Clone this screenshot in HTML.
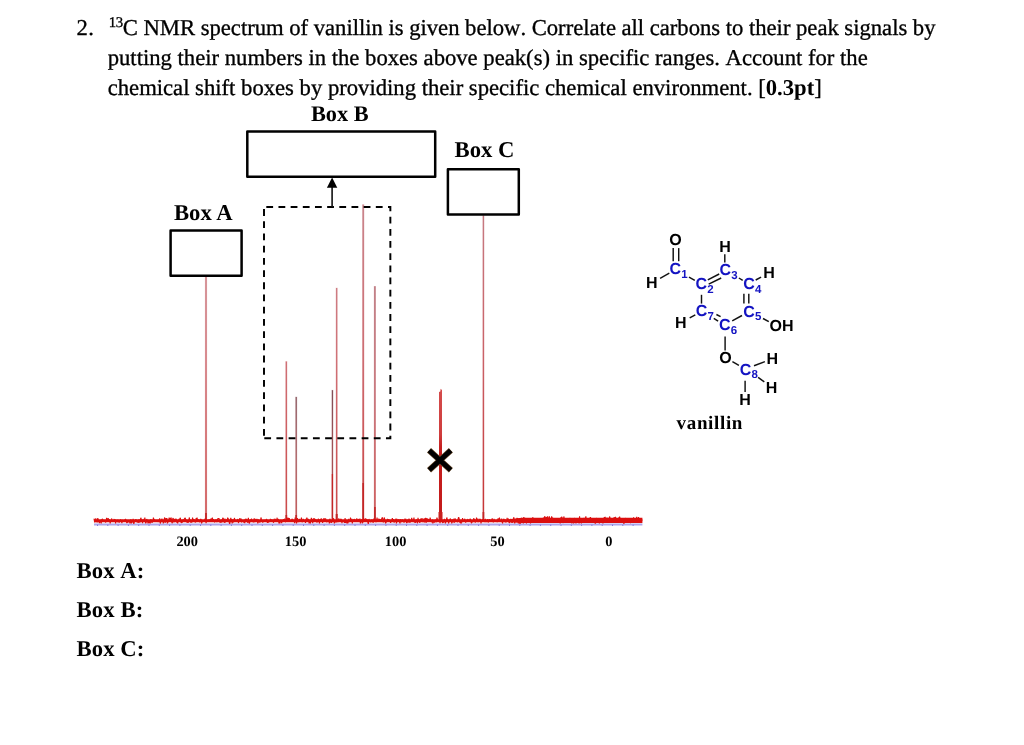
<!DOCTYPE html>
<html><head><meta charset="utf-8"><title>13C NMR vanillin</title>
<style>
html,body{margin:0;padding:0;background:#fff;}
body{width:1024px;height:745px;position:relative;overflow:hidden;text-rendering:geometricPrecision;font-family:"Liberation Serif","Times New Roman",serif;color:#000;}
.t{position:absolute;white-space:nowrap;font-size:22.67px;line-height:30px;font-kerning:none;-webkit-text-stroke:0.32px #000;}
.b{font-weight:bold;-webkit-text-stroke:0;}
.n{font-weight:normal;-webkit-text-stroke:0.32px #000;}
.ax{position:absolute;white-space:nowrap;font-weight:bold;font-size:14.4px;line-height:16px;}
.dia{position:absolute;left:0;top:0;}
sup{font-size:14.8px;line-height:0;vertical-align:7.4px;letter-spacing:-0.35px;margin-left:0.3px;margin-right:0;}
</style></head><body>
<div class="t" style="left:76.4px;top:12.5px;letter-spacing:0.6px;">2.</div>
<div class="t" style="left:108.4px;top:12.5px;word-spacing:-0.1px;"><sup>13</sup>C NMR spectrum of vanillin is given below. Correlate all carbons to their peak signals by</div>
<div class="t" style="left:107.7px;top:42.5px;">putting their numbers in the boxes above peak(s) in specific ranges. Account for the</div>
<div class="t" style="left:107.7px;top:72.5px;">chemical shift boxes by providing their specific chemical environment. <span class="b"><span class="n">[</span>0.3pt<span class="n">]</span></span></div>
<div class="t b" style="left:311px;top:99px;font-size:22.3px;">Box B</div>
<div class="t b" style="left:454.6px;top:135px;">Box C</div>
<div class="t b" style="left:174px;top:198px;font-kerning:auto;">Box A</div>
<div class="t b" style="left:76.5px;top:556px;letter-spacing:0.1px;">Box A:</div>
<div class="t b" style="left:76.5px;top:595px;letter-spacing:0.15px;">Box B:</div>
<div class="t b" style="left:76.5px;top:634px;letter-spacing:0.1px;">Box C:</div>
<div class="t b" style="left:676.6px;top:409.2px;font-size:19px;letter-spacing:0.65px;">vanillin</div>
<div class="ax" style="left:176.4px;top:533.6px;">200</div>
<div class="ax" style="left:284.8px;top:533.6px;">150</div>
<div class="ax" style="left:384.8px;top:533.6px;">100</div>
<div class="ax" style="left:490.2px;top:533.6px;">50</div>
<div class="ax" style="left:605.2px;top:533.6px;">0</div>
<svg class="dia" width="1024" height="745" viewBox="0 0 1024 745">
<defs><linearGradient id="pk" x1="0" y1="200" x2="0" y2="520" gradientUnits="userSpaceOnUse"><stop offset="0" stop-color="#c47880"/><stop offset="0.5" stop-color="#c85c62"/><stop offset="1" stop-color="#c42c2c"/></linearGradient><linearGradient id="pkm" x1="0" y1="200" x2="0" y2="520" gradientUnits="userSpaceOnUse"><stop offset="0" stop-color="#a8626c"/><stop offset="0.6" stop-color="#b85058"/><stop offset="1" stop-color="#c02c2c"/></linearGradient><linearGradient id="pkd" x1="0" y1="380" x2="0" y2="520" gradientUnits="userSpaceOnUse"><stop offset="0" stop-color="#6e3a44"/><stop offset="0.55" stop-color="#9a4044"/><stop offset="1" stop-color="#b02828"/></linearGradient><linearGradient id="sv" x1="0" y1="388" x2="0" y2="520" gradientUnits="userSpaceOnUse"><stop offset="0" stop-color="#d44c4c"/><stop offset="0.35" stop-color="#cf3d3d"/><stop offset="0.45" stop-color="#c51f1f"/><stop offset="1" stop-color="#c41a1a"/></linearGradient></defs>
<line x1="94" y1="524.5" x2="642.4" y2="524.5" stroke="#aca6ec" stroke-width="2"/>
<line x1="94" y1="525.2" x2="642.5" y2="525.2" stroke="#6a62d0" stroke-width="1.1" stroke-dasharray="1 9.3" stroke-dashoffset="-3"/>
<rect x="204.88" y="276.2" width="2.25" height="244.5" fill="url(#pk)" opacity="0.33"/>
<rect x="205.43" y="276.5" width="1.15" height="244.5" fill="url(#pk)"/>
<rect x="285.25" y="361.2" width="2.1" height="159.5" fill="url(#pk)" opacity="0.33"/>
<rect x="285.8" y="361.5" width="1" height="159.5" fill="url(#pk)"/>
<rect x="295.2" y="396.7" width="2" height="124" fill="url(#pkd)" opacity="0.33"/>
<rect x="295.75" y="397" width="0.9" height="124" fill="url(#pkd)"/>
<rect x="331.4" y="389.9" width="2" height="130.8" fill="url(#pkd)" opacity="0.33"/>
<rect x="331.95" y="390.2" width="0.9" height="130.8" fill="url(#pkd)"/>
<rect x="335.65" y="287.7" width="2.1" height="233" fill="url(#pk)" opacity="0.33"/>
<rect x="336.2" y="288" width="1" height="233" fill="url(#pk)"/>
<rect x="362" y="204.3" width="2.4" height="316.4" fill="url(#pk)" opacity="0.33"/>
<rect x="362.55" y="204.6" width="1.3" height="316.4" fill="url(#pk)"/>
<rect x="373.8" y="286" width="2.2" height="234.7" fill="url(#pkm)" opacity="0.33"/>
<rect x="374.35" y="286.3" width="1.1" height="234.7" fill="url(#pkm)"/>
<rect x="482.3" y="215.2" width="2.2" height="305.5" fill="url(#pk)" opacity="0.33"/>
<rect x="482.85" y="215.5" width="1.1" height="305.5" fill="url(#pk)"/>
<rect x="362.4" y="483" width="1.6" height="37" fill="#c42626"/>
<rect x="374.1" y="507" width="1.6" height="13" fill="#c42626"/>
<rect x="205.15" y="513" width="1.7" height="7" fill="#c42626"/>
<rect x="285.45" y="515" width="1.7" height="5" fill="#c42626"/>
<rect x="295.35" y="515" width="1.7" height="5" fill="#c42626"/>
<rect x="335.7" y="514" width="2" height="6" fill="#c42626"/>
<rect x="482.55" y="512" width="1.7" height="8" fill="#c42626"/>
<rect x="331.75" y="474" width="1.3" height="46" fill="#c42626"/>
<path d="M439 521 V392 L440.3 391.6 L440.6 388.8 L442 390 V521 Z" fill="url(#sv)"/>
<rect x="438.5" y="512" width="4" height="8" fill="#c9201f"/>
<path d="M94 519.15 H508 L522 517.85 H642.4 V522.9 H522 L508 522.3 H94 Z" fill="#dc0f0f"/>
<path d="M94 518.64 94.45 521.2 94.9 522.19 95.35 519.78 95.8 518.47 96.25 520.5 96.7 521.36 97.15 522.36 97.6 518.65 98.05 518.53 98.5 521.73 98.95 521.36 99.4 523.05 99.85 522.17 100.3 520.44 100.75 520.16 101.2 523.4 101.65 520.14 102.1 519.34 102.55 518.78 103 520.75 103.45 520.83 103.9 520.05 104.35 520.5 104.8 521.04 105.25 521.71 105.7 522.35 106.15 520.94 106.6 517.74 107.05 521.72 107.5 518.33 107.95 520.33 108.4 518.24 108.85 520.6 109.3 519.35 109.75 520.94 110.2 523.4 110.65 520.52 111.1 521.95 111.55 518.48 112 520.14 112.45 521.66 112.9 520.45 113.35 521.19 113.8 520.77 114.25 518.99 114.7 521.5 115.15 519.3 115.6 523.4 116.05 519.79 116.5 521.7 116.95 520.6 117.4 522.12 117.85 519.64 118.3 522.2 118.75 520.4 119.2 522.62 119.65 521.6 120.1 520.83 120.55 519.35 121 521.83 121.45 521.35 121.9 523.23 122.35 520 122.8 521.49 123.25 521.41 123.7 521.05 124.15 520.93 124.6 520.89 125.05 519.64 125.5 518.98 125.95 519.97 126.4 521.55 126.85 523.02 127.3 522.16 127.75 522.29 128.2 521.84 128.65 521.72 129.1 520.89 129.55 521.83 130 523.4 130.45 520.08 130.9 519.49 131.35 523.4 131.8 520.99 132.25 522.15 132.7 522 133.15 518.78 133.6 523.4 134.05 523.4 134.5 520.88 134.95 521.8 135.4 520.8 135.85 519.19 136.3 520.42 136.75 521.2 137.2 522.39 137.65 521.73 138.1 520.7 138.55 522.77 139 519.38 139.45 521.87 139.9 522.38 140.35 520.13 140.8 517.74 141.25 519.15 141.7 520.98 142.15 521.44 142.6 523.08 143.05 518.99 143.5 520.6 143.95 521.64 144.4 520.35 144.85 517.5 145.3 521.89 145.75 523.4 146.2 522.21 146.65 519.13 147.1 519.94 147.55 520.95 148 523.4 148.45 521.59 148.9 520.78 149.35 523.09 149.8 520.47 150.25 523.4 150.7 519.5 151.15 519.84 151.6 521.75 152.05 522.88 152.5 521.65 152.95 521.08 153.4 517.69 153.85 519.46 154.3 519.62 154.75 519.75 155.2 521.54 155.65 520.06 156.1 521.86 156.55 520.73 157 520.07 157.45 520.79 157.9 521.29 158.35 521.97 158.8 519.84 159.25 520.23 159.7 518.42 160.15 523.17 160.6 522.92 161.05 520.31 161.5 519.83 161.95 518.62 162.4 520.87 162.85 520.93 163.3 523.4 163.75 520.99 164.2 519.36 164.65 517.5 165.1 522.86 165.55 520.9 166 518.03 166.45 520.89 166.9 518.03 167.35 523.4 167.8 522.39 168.25 521.52 168.7 520.32 169.15 517.5 169.6 520.4 170.05 518.11 170.5 521.55 170.95 517.5 171.4 519.15 171.85 522.55 172.3 523.23 172.75 518.71 173.2 518.15 173.65 522.01 174.1 521.96 174.55 519.02 175 519.49 175.45 519.49 175.9 518.7 176.35 519.51 176.8 522.6 177.25 521.7 177.7 523.4 178.15 520.46 178.6 520.38 179.05 519.03 179.5 520.4 179.95 518.5 180.4 517.76 180.85 521.72 181.3 522.9 181.75 521.94 182.2 522.73 182.65 521 183.1 519.45 183.55 520.74 184 520 184.45 518.82 184.9 517.89 185.35 518.23 185.8 520.59 186.25 520.84 186.7 519.84 187.15 522.89 187.6 520.89 188.05 521.53 188.5 522.55 188.95 519.29 189.4 517.5 189.85 521.8 190.3 519.5 190.75 522.7 191.2 521.14 191.65 522.21 192.1 521.82 192.55 517.5 193 521.75 193.45 519.52 193.9 519.39 194.35 519.9 194.8 521.83 195.25 522.02 195.7 522.22 196.15 517.94 196.6 519.66 197.05 517.5 197.5 520.44 197.95 521.56 198.4 519.38 198.85 520.99 199.3 520.97 199.75 522.21 200.2 519.29 200.65 519.27 201.1 519.38 201.55 523.4 202 522.34 202.45 520.4 202.9 520.96 203.35 520.78 203.8 520.92 204.25 520.27 204.7 520.07 205.15 518.59 205.6 519.57 206.05 523.24 206.5 521.46 206.95 520.7 207.4 520.26 207.85 520.7 208.3 521.17 208.75 519.57 209.2 520.91 209.65 520.98 210.1 519.4 210.55 519.34 211 519 211.45 518.9 211.9 522.02 212.35 517.5 212.8 520.17 213.25 519.62 213.7 519.61 214.15 520.76 214.6 522.4 215.05 520.72 215.5 520.38 215.95 519.62 216.4 520.39 216.85 522.06 217.3 519.97 217.75 518.77 218.2 518.58 218.65 518.83 219.1 518.38 219.55 522.36 220 521.17 220.45 520.22 220.9 522.94 221.35 519.55 221.8 521.8 222.25 521.88 222.7 518.13 223.15 518.11 223.6 519.12 224.05 522.05 224.5 522.67 224.95 518.64 225.4 522.28 225.85 519.99 226.3 519.97 226.75 519.72 227.2 520.08 227.65 517.69 228.1 519 228.55 518.62 229 521.38 229.45 523.4 229.9 523.4 230.35 520.06 230.8 517.85 231.25 519.95 231.7 519.1 232.15 523.4 232.6 521.51 233.05 519.43 233.5 522.1 233.95 521.46 234.4 518 234.85 519.75 235.3 520.22 235.75 520.63 236.2 520.81 236.65 520.06 237.1 520.9 237.55 519.66 238 519.17 238.45 523.03 238.9 521.18 239.35 521.3 239.8 518.05 240.25 520.33 240.7 521.91 241.15 518.53 241.6 522.36 242.05 519.98 242.5 521.24 242.95 520.39 243.4 520.95 243.85 522.53 244.3 519.95 244.75 523.1 245.2 519.35 245.65 519.11 246.1 521.74 246.55 518.89 247 520.01 247.45 522.05 247.9 522.54 248.35 517.76 248.8 521.41 249.25 523.4 249.7 522.51 250.15 520.22 250.6 519.64 251.05 520.13 251.5 518.76 251.95 520.18 252.4 520.3 252.85 520.37 253.3 522.49 253.75 520.23 254.2 518.27 254.65 522.28 255.1 518.88 255.55 519.88 256 520.39 256.45 520.05 256.9 519 257.35 520.2 257.8 523.4 258.25 519.63 258.7 520.38 259.15 522.4 259.6 521.79 260.05 521.82 260.5 521.98 260.95 517.5 261.4 519.22 261.85 520.81 262.3 521.4 262.75 522.67 263.2 521.35 263.65 520.22 264.1 520.66 264.55 520.26 265 521 265.45 521.68 265.9 520.06 266.35 519.3 266.8 519.23 267.25 522.36 267.7 522.65 268.15 522.19 268.6 521.97 269.05 521.93 269.5 520.6 269.95 521.66 270.4 518.92 270.85 520.28 271.3 519.43 271.75 521.76 272.2 519.67 272.65 520.43 273.1 521.24 273.55 522.77 274 519.33 274.45 519.1 274.9 521.91 275.35 518.83 275.8 521.32 276.25 519.69 276.7 520.43 277.15 517.69 277.6 521.74 278.05 519.8 278.5 519.16 278.95 523.4 279.4 521.74 279.85 523.4 280.3 521.25 280.75 520.04 281.2 520.77 281.65 523.17 282.1 520.56 282.55 521.32 283 521.43 283.45 519.14 283.9 520.81 284.35 519.8 284.8 518.61 285.25 522 285.7 521.67 286.15 520.72 286.6 519.15 287.05 517.5 287.5 521.38 287.95 520.44 288.4 517.91 288.85 520.5 289.3 518.17 289.75 520.56 290.2 520.83 290.65 521.17 291.1 520.95 291.55 520.87 292 518.78 292.45 519.99 292.9 519.78 293.35 520.22 293.8 521.03 294.25 521.59 294.7 523.22 295.15 517.5 295.6 521.24 296.05 520.28 296.5 523.4 296.95 522.09 297.4 517.96 297.85 521.24 298.3 519.77 298.75 522.19 299.2 518.91 299.65 520.44 300.1 520.39 300.55 520.45 301 519.67 301.45 517.66 301.9 521.34 302.35 522.2 302.8 520.49 303.25 518.97 303.7 520.92 304.15 521.5 304.6 520.32 305.05 520.58 305.5 522.85 305.95 518.81 306.4 519.71 306.85 517.55 307.3 519.48 307.75 519.42 308.2 519.06 308.65 519.49 309.1 523.4 309.55 520.29 310 520.42 310.45 523.4 310.9 520.5 311.35 517.83 311.8 521.24 312.25 519.1 312.7 523.22 313.15 518.61 313.6 519.67 314.05 518.03 314.5 520.76 314.95 518.98 315.4 520.5 315.85 520 316.3 519.62 316.75 522.11 317.2 522.1 317.65 520.7 318.1 519.16 318.55 518.89 319 521.03 319.45 523.4 319.9 519.87 320.35 519.34 320.8 519.48 321.25 518.85 321.7 519.04 322.15 520.27 322.6 522.89 323.05 520.6 323.5 519.78 323.95 518.02 324.4 520.94 324.85 520.56 325.3 518.64 325.75 518.86 326.2 520.53 326.65 522.22 327.1 521.6 327.55 520.93 328 520.08 328.45 521.11 328.9 520.58 329.35 523.4 329.8 518.79 330.25 520.01 330.7 522.63 331.15 520.17 331.6 522.88 332.05 520.53 332.5 520.83 332.95 520.01 333.4 518.39 333.85 519.05 334.3 523.4 334.75 521.63 335.2 521.57 335.65 522.13 336.1 521.51 336.55 522.24 337 520.17 337.45 520.24 337.9 522.17 338.35 520.04 338.8 518.47 339.25 520.24 339.7 519.73 340.15 521.58 340.6 519.45 341.05 518.9 341.5 520.07 341.95 523.08 342.4 520.52 342.85 520.86 343.3 520.61 343.75 521.07 344.2 522.09 344.65 522.83 345.1 517.97 345.55 522.78 346 520.59 346.45 520.09 346.9 523.4 347.35 520.33 347.8 523.4 348.25 522.15 348.7 518.95 349.15 521.38 349.6 521.78 350.05 520.4 350.5 517.5 350.95 520.05 351.4 520.29 351.85 518.83 352.3 523.4 352.75 520.21 353.2 519.97 353.65 520.12 354.1 519.35 354.55 519.36 355 520.75 355.45 521.1 355.9 519.79 356.35 520.46 356.8 518.38 357.25 521.43 357.7 519.4 358.15 520.94 358.6 519.15 359.05 519.78 359.5 520.94 359.95 518.66 360.4 523.4 360.85 520.54 361.3 520.48 361.75 519.42 362.2 523.15 362.65 522.82 363.1 521.08 363.55 518.41 364 519.79 364.45 521.59 364.9 519.78 365.35 518.71 365.8 518.7 366.25 519.37 366.7 520.62 367.15 519.56 367.6 520.63 368.05 523.4 368.5 523.4 368.95 518.94 369.4 521.15 369.85 520.74 370.3 520.38 370.75 522.27 371.2 520.07 371.65 520.08 372.1 520 372.55 520.44 373 522.66 373.45 521.84 373.9 518.45 374.35 519.89 374.8 519.32 375.25 521.91 375.7 520.96 376.15 522.02 376.6 520.5 377.05 517.55 377.5 521.32 377.95 520.96 378.4 521.41 378.85 518.52 379.3 520.73 379.75 519.5 380.2 519.5 380.65 521.17 381.1 521.16 381.55 519.17 382 517.86 382.45 517.5 382.9 519.68 383.35 522.4 383.8 520.51 384.25 517.5 384.7 519.22 385.15 521.27 385.6 523.28 386.05 522.47 386.5 521.19 386.95 520.92 387.4 518.91 387.85 519.88 388.3 520.07 388.75 519.36 389.2 520.7 389.65 519.97 390.1 521.14 390.55 522.89 391 521.79 391.45 521.27 391.9 520.21 392.35 518.17 392.8 520.42 393.25 521.47 393.7 518.99 394.15 522.61 394.6 520.07 395.05 521.2 395.5 520.07 395.95 518.59 396.4 523.4 396.85 518.74 397.3 522.07 397.75 519.71 398.2 521.05 398.65 519.31 399.1 519.93 399.55 522.07 400 523.4 400.45 519.25 400.9 520.62 401.35 522.12 401.8 519.59 402.25 521.74 402.7 519.34 403.15 521.57 403.6 521.3 404.05 522.54 404.5 521.18 404.95 518.69 405.4 521.66 405.85 518.84 406.3 521.8 406.75 523.02 407.2 521.55 407.65 519.71 408.1 522.51 408.55 520.87 409 518.61 409.45 520.03 409.9 522.87 410.35 520.11 410.8 520.79 411.25 520.05 411.7 517.9 412.15 519.78 412.6 521.17 413.05 520.93 413.5 520.32 413.95 517.5 414.4 522.56 414.85 521.75 415.3 522.24 415.75 522.68 416.2 519.89 416.65 519.63 417.1 521.1 417.55 523.28 418 517.9 418.45 520.23 418.9 519.46 419.35 521.49 419.8 522.94 420.25 520.13 420.7 518.62 421.15 520.68 421.6 520.14 422.05 518.13 422.5 522.02 422.95 519.76 423.4 521.69 423.85 518.5 424.3 522.35 424.75 518.29 425.2 522.29 425.65 517.7 426.1 522.81 426.55 520 427 518.11 427.45 520.22 427.9 521.14 428.35 519.02 428.8 519.81 429.25 521.03 429.7 520.33 430.15 517.5 430.6 519.91 431.05 521.28 431.5 521.08 431.95 522.21 432.4 519.5 432.85 523.4 433.3 521.88 433.75 521.1 434.2 522.34 434.65 522.13 435.1 520.76 435.55 519.61 436 522.24 436.45 521.28 436.9 517.57 437.35 518.83 437.8 521.35 438.25 520.77 438.7 521.05 439.15 521.63 439.6 520.83 440.05 523.13 440.5 519.66 440.95 519.96 441.4 521.12 441.85 521.79 442.3 521.86 442.75 522.98 443.2 519.84 443.65 522.47 444.1 521.35 444.55 518.93 445 520.38 445.45 523.4 445.9 521.86 446.35 519.85 446.8 517.5 447.25 519.42 447.7 519.48 448.15 520.72 448.6 523.4 449.05 521.79 449.5 521.1 449.95 519.1 450.4 518.7 450.85 520.27 451.3 519.85 451.75 523.4 452.2 519.95 452.65 519.61 453.1 522.41 453.55 520.72 454 518.62 454.45 522.66 454.9 520.1 455.35 518.47 455.8 521.11 456.25 521.38 456.7 520.06 457.15 521.72 457.6 521.91 458.05 519.19 458.5 517.5 458.95 517.5 459.4 520.4 459.85 522.57 460.3 522.2 460.75 522.83 461.2 523.4 461.65 520.63 462.1 522.29 462.55 518.15 463 521.7 463.45 521.23 463.9 520.45 464.35 519.89 464.8 518.81 465.25 520.82 465.7 522.64 466.15 520.01 466.6 521.45 467.05 519.54 467.5 521.01 467.95 518.99 468.4 521.21 468.85 520.25 469.3 521.1 469.75 519.63 470.2 518.72 470.65 520.07 471.1 522.26 471.55 523.13 472 520.08 472.45 521.88 472.9 521.81 473.35 521.23 473.8 518.12 474.25 521.12 474.7 519.05 475.15 522.48 475.6 521.86 476.05 521.59 476.5 517.5 476.95 521.59 477.4 521.72 477.85 518.56 478.3 522.15 478.75 520.72 479.2 520.31 479.65 519.46 480.1 518.97 480.55 519.91 481 523.4 481.45 520.93 481.9 520.93 482.35 519.56 482.8 519.61 483.25 519.72 483.7 519.18 484.15 522 484.6 520.17 485.05 521.99 485.5 518.75 485.95 522.09 486.4 520.56 486.85 521.67 487.3 520.43 487.75 519.18 488.2 522.54 488.65 519.9 489.1 520.36 489.55 519.18 490 520.93 490.45 519.98 490.9 521.05 491.35 521.15 491.8 519.5 492.25 518.34 492.7 521.29 493.15 522.07 493.6 521.71 494.05 518.77 494.5 521.57 494.95 521.22 495.4 521.05 495.85 521.29 496.3 520.08 496.75 520.94 497.2 522.08 497.65 519.79 498.1 518.3 498.55 520.43 499 520.91 499.45 517.65 499.9 519.52 500.35 521.54 500.8 520.36 501.25 520.75 501.7 518.59 502.15 522.05 502.6 523.4 503.05 520.28 503.5 519.43 503.95 518.75 504.4 522.02 504.85 520.77 505.3 519.33 505.75 522.54 506.2 521.82 506.65 521.56 507.1 517.78 507.55 520.43 508 521.6 508.45 518.61 508.9 522.07 509.35 522.87 509.8 522.22 510.25 519.33 510.7 519.33 511.15 522.03 511.6 522.11 512.05 522.49 512.5 522.44 512.95 520.24 513.4 519.69 513.85 517.22 514.3 521.69 514.75 523.4 515.2 519.52 515.65 519.48 516.1 521.41 516.55 520.92 517 517.84 517.45 518.97 517.9 518.27 518.35 523.4 518.8 518.9 519.25 521.69 519.7 523.4 520.15 523.4 520.6 522.69 521.05 523.06 521.5 517.81 521.95 519.42 522.4 518.71 522.85 519.52 523.3 523.4 523.75 516.96 524.2 521.08 524.65 517.78 525.1 522.51 525.55 522.44 526 519.11 526.45 523.4 526.9 520.19 527.35 522.45 527.8 520.62 528.25 519.02 528.7 519.35 529.15 519.83 529.6 521.19 530.05 520.28 530.5 523.4 530.95 519.69 531.4 519.19 531.85 518.73 532.3 518.62 532.75 517.4 533.2 518.24 533.65 521.72 534.1 520.16 534.55 519.73 535 520.69 535.45 522.01 535.9 521.18 536.35 521.47 536.8 519.02 537.25 519.57 537.7 518.62 538.15 519.87 538.6 518.55 539.05 519.36 539.5 519.73 539.95 519.65 540.4 519.56 540.85 519.15 541.3 522.46 541.75 519.42 542.2 518.19 542.65 520.41 543.1 518.05 543.55 518.08 544 520.2 544.45 516.98 544.9 516.4 545.35 520.58 545.8 521.95 546.25 516.98 546.7 518.4 547.15 521.11 547.6 516.4 548.05 518.44 548.5 517.83 548.95 519.69 549.4 516.42 549.85 521.7 550.3 519.78 550.75 520.61 551.2 519.45 551.65 516.4 552.1 519.77 552.55 517.58 553 520.07 553.45 518.48 553.9 519.47 554.35 519.66 554.8 521.47 555.25 521.46 555.7 518.2 556.15 520.02 556.6 522.74 557.05 520.96 557.5 518.71 557.95 519.83 558.4 519.41 558.85 521.78 559.3 520.11 559.75 520.74 560.2 523.4 560.65 517.51 561.1 518.18 561.55 516.86 562 517.12 562.45 521.63 562.9 520.59 563.35 523.05 563.8 516.42 564.25 518.43 564.7 522.71 565.15 521.94 565.6 521.68 566.05 521.65 566.5 520.11 566.95 520.03 567.4 520.11 567.85 521.6 568.3 519.75 568.75 520.64 569.2 522.72 569.65 517.98 570.1 518.67 570.55 521.09 571 519.57 571.45 519.76 571.9 523.4 572.35 520.81 572.8 519.28 573.25 522.07 573.7 523.4 574.15 518.01 574.6 518.82 575.05 520.26 575.5 518.88 575.95 523.4 576.4 521.02 576.85 519.32 577.3 520.95 577.75 518.59 578.2 518.94 578.65 520.24 579.1 523.4 579.55 516.4 580 520.82 580.45 522.54 580.9 521.41 581.35 523.4 581.8 520.88 582.25 520.32 582.7 519.81 583.15 518.47 583.6 523.06 584.05 517.87 584.5 519.82 584.95 519.09 585.4 518.61 585.85 516.4 586.3 519.35 586.75 520.3 587.2 520.31 587.65 521.6 588.1 519.75 588.55 518.87 589 520.62 589.45 521.27 589.9 518.39 590.35 517.25 590.8 518.16 591.25 522 591.7 521.89 592.15 518.42 592.6 520.25 593.05 521.59 593.5 522.49 593.95 518.84 594.4 519.61 594.85 522.64 595.3 523.4 595.75 522.86 596.2 517.95 596.65 520.88 597.1 519.5 597.55 519.94 598 518.83 598.45 519.17 598.9 520.03 599.35 523.37 599.8 521.34 600.25 520.84 600.7 520.1 601.15 518.67 601.6 519.63 602.05 522.33 602.5 521.58 602.95 523.4 603.4 520.53 603.85 520.01 604.3 517.07 604.75 520.78 605.2 516.88 605.65 522.86 606.1 518.89 606.55 520.05 607 517.56 607.45 519.14 607.9 518.34 608.35 522.13 608.8 520.51 609.25 517.88 609.7 516.5 610.15 519.92 610.6 519.15 611.05 518.01 611.5 521.14 611.95 519.71 612.4 520.25 612.85 518.96 613.3 519 613.75 519.2 614.2 517.1 614.65 521.21 615.1 520.79 615.55 516.88 616 520.24 616.45 522.17 616.9 520.49 617.35 522.43 617.8 519.56 618.25 520.05 618.7 517.66 619.15 518.38 619.6 516.7 620.05 518.4 620.5 520.5 620.95 521.01 621.4 522.19 621.85 520.29 622.3 518.23 622.75 520.84 623.2 519.78 623.65 523.33 624.1 523.4 624.55 521.82 625 517.96 625.45 519.08 625.9 520.4 626.35 518.74 626.8 521.01 627.25 521.31 627.7 521.59 628.15 520.47 628.6 518.42 629.05 518.5 629.5 519.82 629.95 522.49 630.4 522.95 630.85 521.85 631.3 520.72 631.75 521.29 632.2 521.56 632.65 522.43 633.1 521.62 633.55 517.22 634 521.8 634.45 520.76 634.9 519.2 635.35 521.02 635.8 520.58 636.25 519.95 636.7 516.94 637.15 520.25 637.6 521.07 638.05 519.96 638.5 517.13 638.95 520.89 639.4 521.37 639.85 520.38 640.3 520.83 640.75 519.4 641.2 518.84 641.65 521.01 642.1 519.4" fill="none" stroke="#dc0f0f" stroke-width="1.1" stroke-linejoin="bevel"/>
<path d="M264 206.9 H390.35 V438.2 H264" fill="none" stroke="#000" stroke-width="1.95" stroke-dasharray="6.8 5.37" stroke-dashoffset="9.87"/>
<path d="M264 206.9 V438.2" fill="none" stroke="#000" stroke-width="1.95" stroke-dasharray="6.8 5.41" stroke-dashoffset="10.01"/>
<line x1="332.1" y1="206.9" x2="332.1" y2="187" stroke="#111" stroke-width="1.6"/>
<polygon points="332.1,177.6 326.9,187.8 337.3,187.8" fill="#000"/>
<g fill="#fff" stroke="#000" stroke-width="2.5" stroke-linejoin="round">
<rect x="247.3" y="131.4" width="187.9" height="45.35"/>
<rect x="447.9" y="169.2" width="70.9" height="45.35"/>
<rect x="170.6" y="230.4" width="71" height="45.25"/>
</g>
<g stroke-linecap="butt" fill="none"><path d="M429.03 450.25 L450.87 470.25 M450.87 450.25 L429.03 470.25" stroke="#6b4a2a" stroke-width="6.0"/><path d="M429.25 450.45 L450.65 470.05 M450.65 450.45 L429.25 470.05" stroke="#000" stroke-width="4.9"/></g>
<g stroke="#111" stroke-width="1.45" stroke-linecap="butt">
<line x1="673.2" y1="248.1" x2="673.2" y2="261.2"/>
<line x1="678.7" y1="248.1" x2="678.7" y2="261.2"/>
<line x1="660.1" y1="278.4" x2="669.3" y2="273.1"/>
<line x1="689" y1="277.1" x2="694.8" y2="280.3"/>
<line x1="707.8" y1="279.8" x2="719.2" y2="274"/>
<line x1="708.7" y1="284.1" x2="721.2" y2="278"/>
<line x1="724.8" y1="254.3" x2="724.8" y2="262.6"/>
<line x1="701.5" y1="294.8" x2="701.5" y2="303.6"/>
<line x1="689.7" y1="317.9" x2="695.3" y2="314.8"/>
<line x1="738.9" y1="278" x2="742.7" y2="280.3"/>
<line x1="755.7" y1="280" x2="761.1" y2="277.1"/>
<line x1="743.9" y1="293.7" x2="743.9" y2="303.6"/>
<line x1="748.8" y1="293.7" x2="748.8" y2="303.6"/>
<line x1="763" y1="318.5" x2="768.8" y2="321.7"/>
<line x1="732.2" y1="320.9" x2="742" y2="315.5"/>
<line x1="716.4" y1="314.5" x2="720.6" y2="316.7"/>
<line x1="713.8" y1="318.4" x2="718.1" y2="321.2"/>
<line x1="725.1" y1="336.4" x2="725.1" y2="350.4"/>
<line x1="732.4" y1="361.6" x2="738.9" y2="365.4"/>
<line x1="754" y1="365.8" x2="764.9" y2="361.6"/>
<line x1="758.1" y1="377.4" x2="764.3" y2="381.8"/>
<line x1="745.1" y1="380.8" x2="745.1" y2="392.1"/>
</g>
<g font-family="Liberation Sans, Arial, sans-serif" font-weight="bold" font-size="16" text-rendering="geometricPrecision">
<text x="669.14" y="245.27">O</text>
<text x="719.13" y="252.2">H</text>
<text x="645.93" y="287.8">H</text>
<text x="763.13" y="277.6">H</text>
<text x="674.93" y="327.8">H</text>
<text x="769.44" y="330.87">OH</text>
<text x="719.14" y="363.37">O</text>
<text x="766.43" y="363.9">H</text>
<text x="765.63" y="393">H</text>
<text x="739.33" y="405.2">H</text>
<g fill="#1414c2">
<text x="669.54" y="274.27">C<tspan font-size="11.5" dy="3.5" dx="0.2">1</tspan></text>
<text x="695.44" y="289.27">C<tspan font-size="11.5" dy="3.5" dx="0.2">2</tspan></text>
<text x="719.44" y="275.47">C<tspan font-size="11.5" dy="3.5" dx="0.2">3</tspan></text>
<text x="743.34" y="289.07">C<tspan font-size="11.5" dy="3.5" dx="0.2">4</tspan></text>
<text x="743.34" y="316.67">C<tspan font-size="11.5" dy="3.5" dx="0.2">5</tspan></text>
<text x="719.04" y="330.37">C<tspan font-size="11.5" dy="3.5" dx="0.2">6</tspan></text>
<text x="695.74" y="316.37">C<tspan font-size="11.5" dy="3.5" dx="0.2">7</tspan></text>
<text x="739.74" y="374.67">C<tspan font-size="11.5" dy="3.5" dx="0.2">8</tspan></text>
</g></g>
</svg>
</body></html>
